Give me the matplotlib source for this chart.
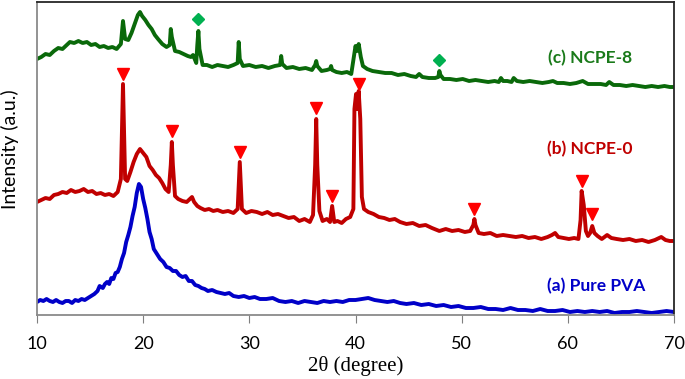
import matplotlib.pyplot as plt

# 2theta (deg) and intensity (a.u., stacked offsets as drawn)
pva_x = [10.0, 10.3, 10.6, 10.9, 11.2, 11.5, 11.8, 12.1, 12.4, 12.7, 13.0, 13.3, 13.6, 13.9, 14.2,
         14.5, 14.8, 15.1, 15.4, 15.7, 15.9, 16.2, 16.4, 16.6, 16.8, 17.0, 17.2, 17.4, 17.6, 17.8,
         18.0, 18.2, 18.4, 18.6, 18.8, 19.0, 19.2, 19.4, 19.6, 19.8, 20.0, 20.2, 20.4, 20.6, 20.8,
         21.0, 21.3, 21.6, 21.9, 22.2, 22.5, 22.8, 23.1, 23.4, 23.7, 24.0, 24.3, 24.6, 24.9, 25.2,
         25.5, 25.8, 26.1, 26.5, 26.9, 27.3, 27.7, 28.1, 28.5, 29.0, 29.5, 30.0, 30.5, 31.0, 31.6,
         32.2, 32.8, 33.4, 34.0, 34.6, 35.2, 35.8, 36.4, 37.0, 37.6, 38.2, 38.8, 39.4, 40.0, 40.6,
         41.2, 41.8, 42.4, 43.0, 43.6, 44.2, 44.8, 45.5, 46.2, 46.9, 47.6, 48.3, 49.0, 49.7, 50.4,
         51.1, 51.8, 52.5, 53.2, 53.9, 54.6, 55.3, 56.0, 56.7, 57.4, 58.1, 58.8, 59.5, 60.2, 60.9,
         61.6, 62.3, 63.0, 63.7, 64.4, 65.1, 65.8, 66.5, 67.2, 67.9, 68.6, 69.3, 70.0]
pva_y = [13, 15, 14, 16, 14, 13, 15, 13, 12, 14, 14, 12, 15, 14, 16,
         15, 17, 19, 21, 24, 29, 27, 31, 33, 31, 37, 36, 42, 43, 48,
         56, 62, 73, 80, 88, 99, 108, 122, 131, 128, 116, 107, 96, 83, 76,
         66, 61, 56, 53, 48, 47, 44, 44, 40, 38, 39, 34, 34, 30, 29,
         27, 26, 24, 25, 23, 22, 21, 22, 19, 18, 19, 17, 18, 16, 16,
         17, 14, 13, 14, 12, 14, 13, 12, 14, 13, 14, 13, 15, 15, 16,
         17, 15, 14, 13, 14, 12, 11, 12, 10, 11, 9, 10, 8, 9, 7,
         7, 8, 6, 6, 5, 7, 5, 5, 4, 6, 4, 4, 5, 3, 4,
         3, 4, 3, 4, 2, 3, 3, 4, 3, 2, 3, 4, 3]

ncpe0_x = [10.0, 10.4, 10.8, 11.2, 11.6, 12.0, 12.4, 12.8, 13.2, 13.6, 14.0, 14.4, 14.8, 15.2, 15.6,
           16.0, 16.4, 16.8, 17.2, 17.6, 17.9, 18.1, 18.3, 18.5, 18.8, 19.1, 19.4, 19.7, 20.0, 20.3,
           20.6, 20.9, 21.2, 21.5, 21.8, 22.1, 22.4, 22.6, 22.7, 22.8, 23.0, 23.3, 23.7, 24.1, 24.4,
           24.6, 24.8, 25.1, 25.4, 25.8, 26.2, 26.6, 27.0, 27.5, 28.0, 28.5, 28.9, 29.1, 29.3, 29.7,
           30.2, 30.7, 31.2, 31.7, 32.2, 32.7, 33.2, 33.7, 34.2, 34.7, 35.2, 35.7, 36.0, 36.2, 36.3,
           36.4, 36.6, 36.9, 37.3, 37.6, 37.8, 38.0, 38.3, 38.7, 39.1, 39.5, 39.8, 39.9, 40.05, 40.15,
           40.3, 40.45, 40.6, 40.8, 41.2, 41.7, 42.2, 42.7, 43.2, 43.7, 44.2, 44.8, 45.4, 46.0, 46.6,
           47.2, 47.9, 48.5, 49.1, 49.7, 50.3, 50.8, 51.1, 51.2, 51.3, 51.6, 52.1, 52.7, 53.3, 53.9,
           54.5, 55.1, 55.7, 56.3, 56.9, 57.5, 58.1, 58.5, 58.8, 59.1, 59.6, 60.1, 60.6, 61.0, 61.2,
           61.3, 61.5, 61.7, 61.9, 62.1, 62.3, 62.5, 62.8, 63.2, 63.7, 64.1, 64.6, 65.2, 65.8, 66.4,
           67.0, 67.6, 68.2, 68.8, 69.2, 69.6, 70.0]
ncpe0_y = [113, 115, 117, 116, 120, 121, 123, 122, 125, 123, 124, 126, 123, 124, 121,
           122, 120, 121, 119, 123, 136, 231, 136, 134, 143, 153, 161, 166, 162, 158,
           149, 145, 140, 137, 132, 126, 123, 150, 173, 150, 119, 116, 114, 113, 116,
           118, 113, 109, 107, 105, 106, 104, 105, 103, 104, 102, 106, 153, 106, 102,
           104, 103, 101, 103, 100, 101, 99, 97, 98, 94, 96, 93, 100, 150, 196,
           150, 104, 94, 96, 93, 109, 93, 94, 92, 96, 98, 106, 206, 221, 206,
           224, 196, 118, 106, 103, 101, 98, 97, 95, 96, 93, 91, 92, 89, 90,
           87, 84, 86, 84, 85, 83, 84, 90, 96, 90, 82, 81, 82, 79, 80,
           79, 78, 79, 77, 78, 76, 78, 80, 82, 78, 77, 76, 77, 76, 95,
           124, 110, 84, 79, 82, 89, 82, 79, 76, 80, 77, 76, 75, 76, 74,
           75, 73, 75, 78, 75, 74, 74]

ncpe8_x = [10.0, 10.4, 10.8, 11.2, 11.6, 12.0, 12.4, 12.8, 13.1, 13.5, 13.9, 14.3, 14.7, 15.1, 15.5,
           15.9, 16.3, 16.7, 17.1, 17.5, 17.9, 18.1, 18.3, 18.6, 18.9, 19.2, 19.5, 19.7, 19.9, 20.2,
           20.5, 20.8, 21.1, 21.4, 21.8, 22.2, 22.5, 22.6, 22.7, 23.0, 23.4, 23.8, 24.2, 24.5, 24.7,
           25.0, 25.1, 25.2, 25.3, 25.6, 26.0, 26.5, 27.0, 27.5, 28.0, 28.5, 28.9, 29.0, 29.1, 29.4,
           30.0, 30.6, 31.2, 31.8, 32.4, 32.9, 33.0, 33.1, 33.5, 34.1, 34.7, 35.3, 35.9, 36.2, 36.3,
           36.4, 36.8, 37.3, 37.6, 37.7, 37.8, 38.2, 38.7, 39.2, 39.6, 39.8, 40.0, 40.15, 40.3, 40.5,
           40.7, 41.1, 41.6, 42.2, 42.8, 43.4, 44.0, 44.6, 45.2, 45.7, 46.0, 46.3, 46.9, 47.5, 47.8,
           47.9, 48.0, 48.3, 48.9, 49.5, 50.1, 50.7, 51.3, 51.9, 52.5, 53.1, 53.5, 53.7, 53.9, 54.3,
           54.7, 54.9, 55.2, 55.8, 56.4, 57.0, 57.6, 58.2, 58.6, 59.0, 59.6, 60.2, 60.8, 61.4, 61.9,
           62.5, 63.1, 63.6, 63.9, 64.3, 64.9, 65.5, 66.1, 66.7, 67.3, 67.9, 68.5, 69.1, 69.6, 70.0]
ncpe8_y = [256, 258, 261, 260, 264, 267, 266, 270, 273, 272, 274, 272, 273, 270, 271,
           268, 269, 267, 268, 266, 271, 294, 276, 275, 282, 291, 300, 303, 299, 295,
           290, 286, 280, 276, 271, 268, 270, 286, 278, 264, 263, 261, 259, 258, 260,
           252, 270, 284, 266, 250, 250, 248, 250, 249, 248, 250, 252, 273, 256, 249,
           250, 248, 249, 247, 249, 250, 259, 251, 247, 248, 246, 247, 245, 250, 254,
           249, 244, 245, 246, 249, 245, 243, 242, 243, 241, 255, 269, 264, 271, 258,
           249, 246, 244, 243, 242, 242, 240, 241, 239, 238, 241, 238, 237, 237, 238,
           244, 240, 236, 236, 235, 236, 234, 235, 234, 233, 234, 233, 237, 234, 234,
           233, 237, 234, 233, 234, 233, 232, 233, 234, 232, 232, 231, 232, 234, 231,
           231, 231, 230, 233, 230, 230, 229, 230, 229, 228, 229, 228, 229, 228, 228]

# phase markers
tri_x = [18.1, 22.7, 29.1, 36.3, 37.8, 40.3, 51.2, 61.3, 62.3]
tri_y = [241, 184, 163, 207, 119, 231, 106, 134, 101]
dia_x = [25.2, 47.9]
dia_y = [296, 255]

fig = plt.figure(figsize=(6.85, 3.79), dpi=100)
ax = fig.add_axes([37 / 685, 1 - 315 / 379, 637 / 685, 313.5 / 379])

lw = 2.8
ax.plot(pva_x, pva_y, color='#0000c8', lw=lw)
ax.plot(ncpe0_x, ncpe0_y, color='#c00000', lw=lw)
ax.plot(ncpe8_x, ncpe8_y, color='#0a690a', lw=lw)
ax.plot(tri_x, tri_y, 'v', color='#ff0000', ms=9, ls='none')
ax.plot(dia_x, dia_y, 'D', color='#00b050', ms=6, ls='none')

lab = dict(fontsize=12.5, fontweight='bold', family='Lato', ha='left', va='center')
ax.text(58.1, 257, '(c) NCPE-8', color='#1a7a1a', **lab)
ax.text(58.0, 166, '(b) NCPE-0', color='#c00000', **lab)
ax.text(58.0, 29, '(a) Pure PVA', color='#0000c8', **lab)

ax.set_xlim(10, 70)
ax.set_ylim(0, 313.5)
ax.set_xticks(range(10, 71, 10))
ax.set_yticks([])
ax.tick_params(axis='x', direction='out', length=6, color='#7f7f7f', labelsize=13, pad=9)
for t in ax.get_xticklabels():
    t.set_family('Lato')

for s in ['left', 'bottom']:
    ax.spines[s].set_color('#8a8a8a')
    ax.spines[s].set_linewidth(1.3)
for s in ['top', 'right']:
    ax.spines[s].set_color('#262626')
    ax.spines[s].set_linewidth(1.3)

ax.set_ylabel('Intensity (a.u.)', family='Lato', fontsize=14)
ax.yaxis.set_label_coords(-0.029, 0.53)
ax.set_xlabel('2θ (degree)', family='Liberation Serif', fontsize=15, labelpad=3)

plt.savefig('out.png', dpi=100)
